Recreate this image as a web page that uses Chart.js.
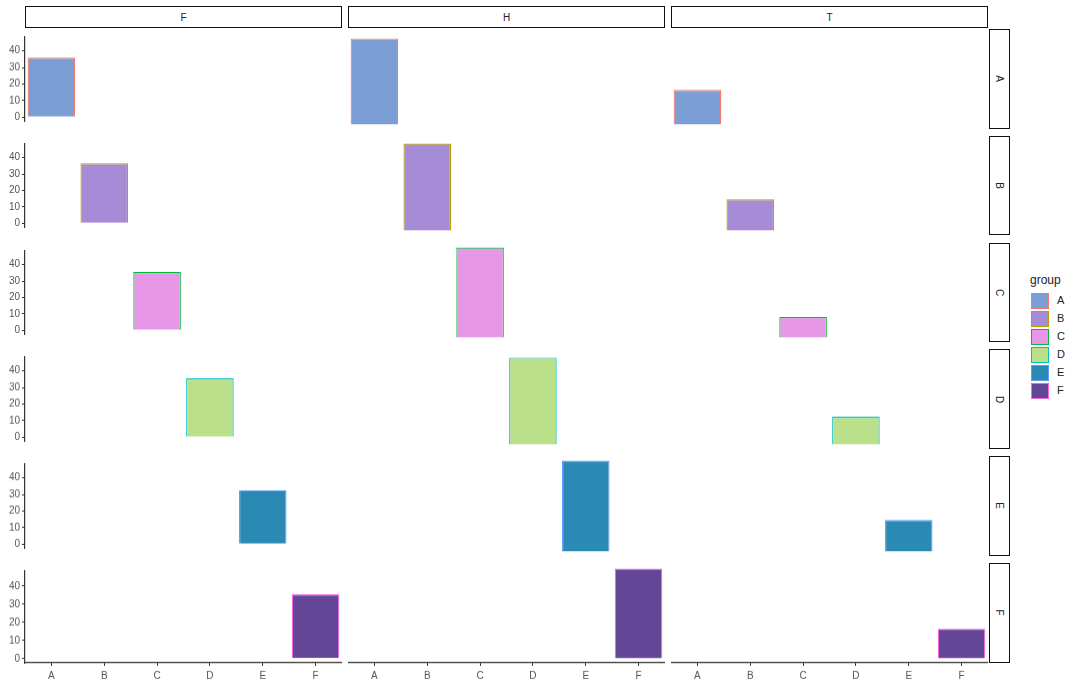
<!DOCTYPE html><html><head><meta charset="utf-8">
<script src="https://cdn.jsdelivr.net/npm/chart.js@4"></script>
<style>
body{margin:0;width:1080px;height:686px;position:relative;background:#fff;font-family:Arial,"Liberation Sans",sans-serif;overflow:hidden}
canvas{position:absolute}
.strip{position:absolute;border:1.5px solid #111;box-sizing:border-box;background:#fff;font-size:10px;color:#222;display:flex;align-items:center;justify-content:center}
.rs span{transform:rotate(90deg)}
.lg{position:absolute;font-size:11px;color:#222}
.key{position:absolute;width:18px;height:16px;box-sizing:border-box;border:1.5px solid}
</style></head><body>
<script>
const categories=['A','B','C','D','E','F'];
const facetCols=['F','H','T'];
const facetRows=['A','B','C','D','E','F'];
const valuesF=[36,36.5,35.5,35.5,32.5,35.5];
const valuesH=[43.5,44.5,46,44,46,45.5];
const valuesT=[17.5,16,10.5,14,16,15];
const yTicks=[0,10,20,30,40];
const fillColors=['#7B9FD4','#A68BD6','#E896E8','#BBE08A','#2B8AB3','#634796'];
const borderColors=['#F8766D','#B79F00','#00BA38','#00BFC4','#619CFF','#F564E3'];
const colVals=[valuesF,valuesH,valuesT];
const colX=[25,348,671], colW=317, rowTop0=29, rowPitch=106.8, rowH=99.5, leftW=25, botH=24;

facetCols.forEach((c,ci)=>{
  const s=document.createElement('div');s.className='strip';
  Object.assign(s.style,{left:colX[ci]+'px',top:'6px',width:colW+'px',height:'22px'});
  s.textContent=c;document.body.appendChild(s);
});
facetRows.forEach((r,ri)=>{
  const s=document.createElement('div');s.className='strip rs';
  Object.assign(s.style,{left:'989px',top:(rowTop0+ri*rowPitch)+'px',width:'21px',height:rowH+'px'});
  s.innerHTML='<span>'+r+'</span>';document.body.appendChild(s);
});
const g=document.createElement('div');g.className='lg';g.style.left='1030px';g.style.top='273px';g.style.fontSize='12px';g.textContent='group';document.body.appendChild(g);
categories.forEach((c,i)=>{
  const k=document.createElement('div');k.className='key';
  Object.assign(k.style,{left:'1031px',top:(293+i*18)+'px',background:fillColors[i],borderColor:borderColors[i]});
  document.body.appendChild(k);
  const t=document.createElement('div');t.className='lg';t.style.left='1057px';t.style.top=(294+i*18)+'px';t.textContent=c;document.body.appendChild(t);
});

facetCols.forEach((c,ci)=>{
  facetRows.forEach((r,ri)=>{
    const first=ci===0, bottom=ri===5;
    const cv=document.createElement('canvas');
    const x=colX[ci]-(first?leftW:0), y=rowTop0+ri*rowPitch;
    const w=colW+(first?leftW:0), h=rowH+(bottom?botH:0);
    cv.style.left=x+'px';cv.style.top=y+'px';cv.style.width=w+'px';cv.style.height=h+'px';
    cv.width=w;cv.height=h;
    document.body.appendChild(cv);
    const data=categories.map((k,i)=>i===ri?colVals[ci][ri]:null);
    new Chart(cv,{type:'bar',data:{labels:categories,datasets:[{data,
      backgroundColor:fillColors[ri],borderColor:borderColors[ri],borderWidth:1.2,
      barPercentage:0.9,categoryPercentage:1}]},
      options:{responsive:false,animation:false,devicePixelRatio:1,
        layout:{padding:0},
        plugins:{legend:{display:false},tooltip:{enabled:false}},
        scales:{
          x:{display:bottom,offset:true,
            grid:{display:true,drawOnChartArea:false,drawTicks:true,tickLength:3,color:'#333',offset:false},
            border:{display:true,color:'#333',width:1.2},
            ticks:{color:'#555',font:{size:10},padding:4},
            afterFit:s=>{s.height=bottom?botH:0;}},
          y:{display:first,min:-2.3,max:48.3,
            afterBuildTicks:s=>{s.ticks=yTicks.map(v=>({value:v}));},
            grid:{display:true,drawOnChartArea:false,drawTicks:true,tickLength:3,color:'#333'},
            border:{display:true,color:'#333',width:1.2},
            ticks:{color:'#555',font:{size:10},padding:2},
            afterFit:s=>{s.width=first?leftW:0;}}
        }}});
  });
});
</script></body></html>
